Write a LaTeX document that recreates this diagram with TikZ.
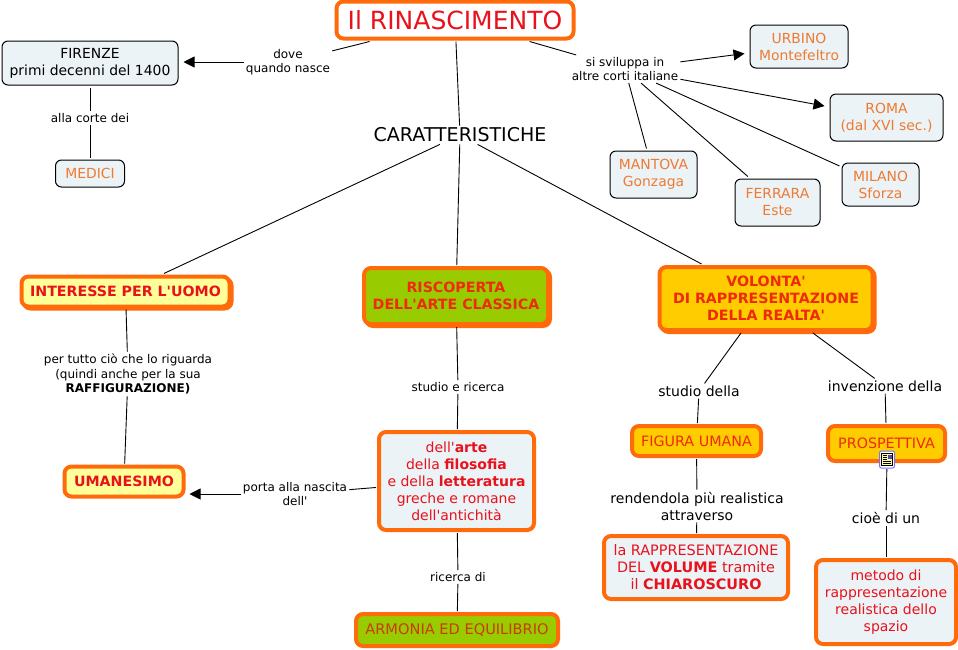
\documentclass[tikz,border=0pt]{standalone}
\usepackage{fontspec}
\setmainfont{DejaVu Sans}[Ligatures=TeXOff]
\usetikzlibrary{arrows.meta,positioning,calc}
\definecolor{ora}{HTML}{FF6A0A}
\definecolor{pale}{HTML}{ECF3F6}
\definecolor{ttxt}{HTML}{E8111C}
\definecolor{otxt}{HTML}{EE7A33}
\definecolor{yel}{HTML}{FFFF99}
\definecolor{grn}{HTML}{99CC00}
\definecolor{gold}{HTML}{FFCC00}
\definecolor{gtxt}{HTML}{EE2A08}
\definecolor{atxt}{HTML}{CC3A08}
\tikzset{
  x=1pt,y=-1pt,
  basebox/.style={rectangle,align=center,inner sep=0pt},
  thin box/.style={basebox,draw=black,line width=1pt,fill=pale,rounded corners=6pt,text=otxt,
     font=\fontsize{13.9}{17}\selectfont,outer sep=2.5pt},
  thick box/.style={basebox,draw=ora,line width=4pt,rounded corners=7pt,text=ttxt,
     font=\fontsize{14}{17}\selectfont,outer sep=3pt},
  raised/.style={preaction={draw=ora,fill=ora,line width=4pt,transform canvas={xshift=2pt,yshift=-2pt}}},
  boldtext/.style={font=\fontsize{14.2}{17}\selectfont\bfseries},
  lab/.style={rectangle,align=center,inner sep=2pt,text=black,font=\fontsize{12}{14.5}\selectfont},
  biglab/.style={rectangle,align=center,inner sep=2pt,text=black,font=\fontsize{14}{17}\selectfont},
  conn/.style={draw=black,line width=.9pt},
  arr/.style={conn,-{Triangle[length=11pt,width=11pt]},shorten >=3pt},
}
\begin{document}
\begin{tikzpicture}
\useasboundingbox (0,0) rectangle (958,649);
% concepts
\node[thick box,minimum width=237pt,minimum height=37pt,font=\fontsize{25}{30}\selectfont] (title) at (455,20) {Il RINASCIMENTO};
\node[thin box,text=black,minimum width=176pt,minimum height=44pt] (firenze) at (90,63) {FIRENZE\\primi decenni del 1400};
\node[thin box,minimum width=69pt,minimum height=27pt] (medici) at (90,173.5) {MEDICI};
\node[thin box,minimum width=98pt,minimum height=43pt] (urbino) at (799,46.5) {URBINO\\Montefeltro};
\node[thin box,minimum width=113pt,minimum height=47pt] (roma) at (886.5,117.5) {ROMA\\(dal XVI sec.)};
\node[thin box,minimum width=87pt,minimum height=47pt] (mantova) at (653.5,174.5) {MANTOVA\\Gonzaga};
\node[thin box,minimum width=85pt,minimum height=47pt] (ferrara) at (777.5,202.5) {FERRARA\\Este};
\node[thin box,minimum width=77pt,minimum height=43pt] (milano) at (880.5,184.5) {MILANO\\Sforza};
\node[thick box,raised,fill=yel,text=ttxt,minimum width=208pt,minimum height=30pt,boldtext] (interesse) at (125.5,291.5) {INTERESSE PER L'UOMO};
\node[thick box,raised,fill=grn,text=gtxt,minimum width=184pt,minimum height=56pt,boldtext] (riscoperta) at (456,296) {RISCOPERTA\\DELL'ARTE CLASSICA};
\node[thick box,raised,fill=gold,text=gtxt,minimum width=213pt,minimum height=63pt,boldtext] (volonta) at (766,298.5) {VOLONTA'\\DI RAPPRESENTAZIONE\\DELLA REALTA'};
\node[thick box,fill=yel,minimum width=119pt,minimum height=30pt,boldtext] (umanesimo) at (124,481.5) {UMANESIMO};
\node[thick box,fill=pale,minimum width=155pt,minimum height=98pt] (opere) at (456.5,481) {dell'\textbf{arte}\\della \textbf{filosofia}\\e della \textbf{letteratura}\\greche e romane\\dell'antichità};
\node[thick box,fill=grn,text=atxt,minimum width=202pt,minimum height=32pt,font=\fontsize{14.6}{17}\selectfont] (armonia) at (457,630) {ARMONIA ED EQUILIBRIO};
\node[thick box,fill=gold,text=gtxt,minimum width=129pt,minimum height=30pt,font=\fontsize{14.3}{17}\selectfont] (figura) at (696.5,441) {FIGURA UMANA};
\node[thick box,fill=gold,text=gtxt,minimum width=117pt,minimum height=35pt,font=\fontsize{14.3}{17}\selectfont] (prospettiva) at (886.5,443.5) {PROSPETTIVA};
\node[thick box,fill=pale,minimum width=184pt,minimum height=63pt,font=\fontsize{14.4}{17}\selectfont] (volume) at (696,567.5) {la RAPPRESENTAZIONE\\DEL \textbf{VOLUME} tramite\\il \textbf{CHIAROSCURO}};
\node[thick box,fill=pale,minimum width=140pt,minimum height=84pt] (metodo) at (886,602) {metodo di\\rappresentazione\\realistica dello\\spazio};
% icon
\node[rectangle,draw=blue!55!white,line width=1pt,fill=white,rounded corners=2pt,minimum width=15pt,minimum height=17pt,inner sep=0pt,outer sep=1pt] (icon) at (887,459.5) {};
\fill[yellow!35!white] (881.5,453.5) rectangle (892.5,465.5);
\draw[black,line width=.6pt] (881.5,453.5) rectangle (892.5,465.5);
\fill[blue!40!gray] (887.5,454.5) rectangle (891.5,458.5);
\foreach \yy in {455,457,459,461,463}{\draw[black,line width=.6pt] (883,\yy) -- (886.5,\yy);}
\foreach \yy in {461,463}{\draw[black,line width=.6pt] (883,\yy) -- (891,\yy);}
% linking phrases
\node[lab] (dove) at (288,62) {dove\\quando nasce};
\node[lab] (corte) at (90,118) {alla corte dei};
\node[lab] (sviluppa) at (625,69) {si sviluppa in\\altre corti italiane};
\node[rectangle,inner sep=2pt,font=\fontsize{19}{22}\selectfont] (caratt) at (460,135) {CARATTERISTICHE};
\node[lab] (tutto) at (128,374) {per tutto ciò che lo riguarda\\(quindi anche per la sua\\\textbf{RAFFIGURAZIONE)}};
\node[lab] (ricerca) at (458,387) {studio e ricerca};
\node[lab] (porta) at (295,494) {porta alla nascita\\dell'};
\node[lab] (ricercadi) at (458,577) {ricerca di};
\node[biglab] (studio) at (699,391) {studio della};
\node[biglab] (invenzione) at (885,386) {invenzione della};
\node[biglab] (rendendola) at (697,506) {rendendola più realistica\\attraverso};
\node[biglab] (cioe) at (886,518) {cioè di un};
% connectors
\draw[conn] (title) -- (dove);
\draw[arr] (dove.west) -- (firenze.east |- dove.west);
\draw[conn] (firenze) -- (corte);
\draw[conn] (corte) -- (medici);
\draw[conn] (title) -- (sviluppa);
\draw[arr] (sviluppa) -- (urbino);
\draw[arr] (sviluppa) -- (roma);
\draw[conn] (sviluppa) -- (mantova);
\draw[conn] (sviluppa) -- (ferrara);
\draw[conn] (sviluppa) -- (milano);
\draw[conn] (title) -- (caratt);
\draw[conn] (caratt) -- (interesse);
\draw[conn] (caratt) -- (riscoperta);
\draw[conn] (caratt) -- (volonta);
\draw[conn] (interesse) -- (tutto);
\draw[conn] (tutto) -- (umanesimo);
\draw[conn] (riscoperta) -- (ricerca);
\draw[conn] (ricerca) -- (opere);
\draw[conn] (opere) -- (ricercadi);
\draw[conn] (ricercadi) -- (armonia);
\draw[conn] (opere) -- (porta);
\draw[arr] (porta.west) -- (umanesimo.east |- porta.west);
\draw[conn] (volonta) -- (studio);
\draw[conn] (studio) -- (figura);
\draw[conn] (figura) -- (rendendola);
\draw[conn] (rendendola) -- (volume);
\draw[conn] (volonta) -- (invenzione);
\draw[conn] (invenzione) -- (prospettiva);
\draw[conn] (icon) -- (cioe);
\draw[conn] (cioe) -- (metodo);
\end{tikzpicture}
\end{document}
